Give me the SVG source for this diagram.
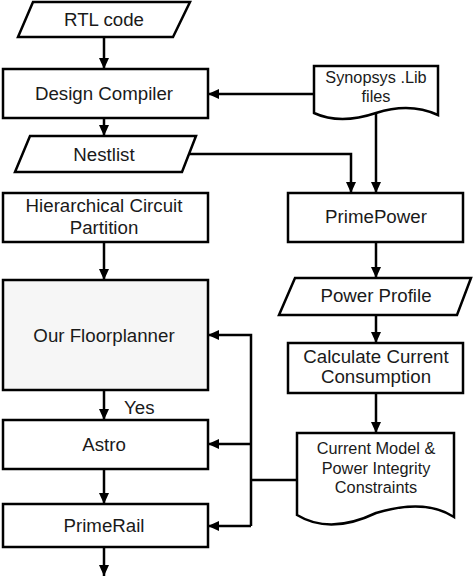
<svg xmlns="http://www.w3.org/2000/svg" width="474" height="576" viewBox="0 0 474 576">
<style>
.s{fill:#fff;stroke:#000;stroke-width:2.5}
.t{font-family:"Liberation Sans",Arial,sans-serif;font-size:18.7px;fill:#1a1a1a;text-anchor:middle}
.sm{font-size:16.3px}
.c{fill:none;stroke:#000;stroke-width:2.5}
</style>
<defs>
<marker id="ah" markerUnits="userSpaceOnUse" markerWidth="12" markerHeight="11" refX="11" refY="5" orient="auto">
<path d="M0,0 L11,5 L0,10 Z" fill="#000"/>
</marker>
</defs>
<rect width="474" height="576" fill="#fff"/>
<g id="connectors">
<path class="c" d="M104,37 V69" marker-end="url(#ah)"/>
<path class="c" d="M314,94 H208" marker-end="url(#ah)"/>
<path class="c" d="M376,113 V193" marker-end="url(#ah)"/>
<path class="c" d="M104,118 V136" marker-end="url(#ah)"/>
<path class="c" d="M189,154 H351 V193" marker-end="url(#ah)"/>
<path class="c" d="M104,242 V280" marker-end="url(#ah)"/>
<path class="c" d="M376,242 V278" marker-end="url(#ah)"/>
<path class="c" d="M376,315 V343" marker-end="url(#ah)"/>
<path class="c" d="M376,393 V433" marker-end="url(#ah)"/>
<path class="c" d="M297,480 H251"/>
<path class="c" d="M251,526 V335 H208" marker-end="url(#ah)"/>
<path class="c" d="M251,444 H208" marker-end="url(#ah)"/>
<path class="c" d="M251,526 H208" marker-end="url(#ah)"/>
<path class="c" d="M104,390 V420" marker-end="url(#ah)"/>
<path class="c" d="M104,469 V504" marker-end="url(#ah)"/>
<path class="c" d="M104,547 V576" marker-end="url(#ah)"/>
<text class="t" x="124" y="414" style="text-anchor:start">Yes</text>
</g>
<g id="rtl">
<polygon class="s" points="33,2 190,2 173,37 18,37"/>
<text class="t" x="104" y="26">RTL code</text>
</g>
<g id="dc">
<rect class="s" x="3" y="69" width="205" height="49"/>
<text class="t" x="104" y="100">Design Compiler</text>
</g>
<g id="synopsys">
<path class="s" d="M314,66 H438 V115 Q410,102 376,113 Q340,125 314,113 Z"/>
<text class="t sm" x="376" y="83">Synopsys .Lib</text>
<text class="t sm" x="376" y="102">files</text>
</g>
<g id="nestlist">
<polygon class="s" points="30,136 196,136 182,172 15,172"/>
<text class="t" x="104" y="161">Nestlist</text>
</g>
<g id="hier">
<rect class="s" x="3" y="193" width="205" height="49"/>
<text class="t" x="104" y="212">Hierarchical Circuit</text>
<text class="t" x="104" y="234">Partition</text>
</g>
<g id="primepower">
<rect class="s" x="288" y="193" width="175" height="49"/>
<text class="t" x="376" y="223">PrimePower</text>
</g>
<g id="floorplanner">
<rect class="s" x="3" y="280" width="205" height="110" style="fill:#f6f6f6"/>
<text class="t" x="104" y="342">Our Floorplanner</text>
</g>
<g id="powerprofile">
<polygon class="s" points="295,278 471,278 457,315 279,315"/>
<text class="t" x="376" y="302">Power Profile</text>
</g>
<g id="calc">
<rect class="s" x="288" y="343" width="175" height="50"/>
<text class="t" x="376" y="363">Calculate Current</text>
<text class="t" x="376" y="383">Consumption</text>
</g>
<g id="currentmodel">
<path class="s" d="M297,433 H454 V517 Q425,498 376,513 Q330,535 297,515 Z"/>
<text class="t sm" x="376" y="454">Current Model &amp;</text>
<text class="t sm" x="376" y="474">Power Integrity</text>
<text class="t sm" x="376" y="493">Constraints</text>
</g>
<g id="astro">
<rect class="s" x="3" y="420" width="205" height="49"/>
<text class="t" x="104" y="451">Astro</text>
</g>
<g id="primerail">
<rect class="s" x="3" y="504" width="205" height="43"/>
<text class="t" x="104" y="532">PrimeRail</text>
</g>
</svg>
